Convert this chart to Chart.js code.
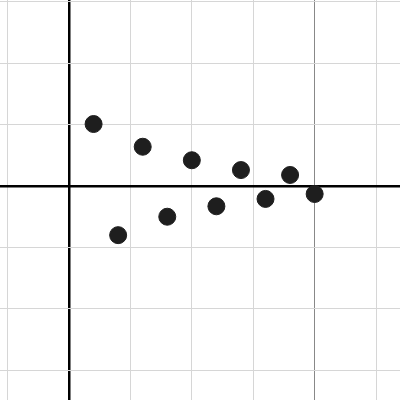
<!DOCTYPE html>
<html><head><meta charset="utf-8">
<script src="https://cdn.jsdelivr.net/npm/chart.js@4"></script>
<style>html,body{margin:0;padding:0;background:#fff}#w{width:400px;height:400px}</style>
</head><body><div id="w"><canvas id="c"></canvas></div>
<script>
const xValues = [0.4, 0.8, 1.2, 1.6, 2.0, 2.4, 2.8, 3.2, 3.6, 4.0];
const yValues = [1.01, -0.8, 0.64, -0.5, 0.42, -0.33, 0.26, -0.21, 0.18, -0.13];
const data = xValues.map((x, i) => ({x, y: yValues[i]}));
function gridColor(ctx, special) {
  const v = ctx.tick && ctx.tick.value;
  if (v === 0) return '#000';
  if (special !== undefined && v === special) return '#888';
  return '#d6d6d6';
}
function gridWidth(ctx) { return ctx.tick && ctx.tick.value === 0 ? 2.5 : 1; }
new Chart(document.getElementById('c'), {
  type: 'scatter',
  data: { datasets: [{ data, backgroundColor: '#1e1e1e', borderColor: '#1e1e1e', pointRadius: 8.5, pointHoverRadius: 8.5, clip: false }] },
  options: {
    responsive: true, maintainAspectRatio: false, animation: false,
    layout: { padding: 0, autoPadding: false },
    plugins: { legend: { display: false }, tooltip: { enabled: false } },
    scales: {
      x: { type: 'linear', min: -1.124, max: 5.39,
        ticks: { display: false, stepSize: 1, includeBounds: false },
        border: { display: false },
        grid: { drawTicks: false, color: c => gridColor(c, 4), lineWidth: gridWidth } },
      y: { type: 'linear', min: -3.485, max: 3.03,
        ticks: { display: false, stepSize: 1, includeBounds: false },
        border: { display: false },
        grid: { drawTicks: false, color: c => gridColor(c), lineWidth: gridWidth } }
    }
  }
});
</script></body></html>
